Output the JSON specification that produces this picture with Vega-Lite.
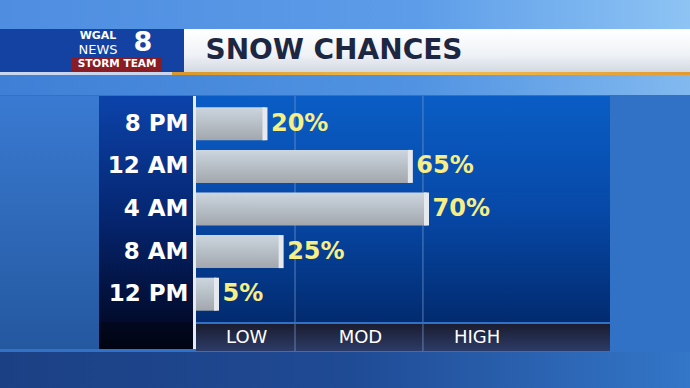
{
  "$schema": "https://vega.github.io/schema/vega-lite/v6.json",
  "background": "#3272c6",
  "padding": 0,
  "spacing": 0,
  "config": {"view": {"stroke": null}, "font": "DejaVu Sans"},
  "datasets": {
    "chances": [
      {"time": "8 PM", "chance": 0.20},
      {"time": "12 AM", "chance": 0.65},
      {"time": "4 AM", "chance": 0.70},
      {"time": "8 AM", "chance": 0.25},
      {"time": "12 PM", "chance": 0.05}
    ],
    "levels": [{"boundary": 0.293}, {"boundary": 0.689}]
  },
  "vconcat": [
    {"width": 690, "height": 29, "data": {"values": []}, "mark": "rect",
     "view": {"fill": {"gradient": "linear", "x1": 0, "y1": 0, "x2": 1, "y2": 0, "stops": [{"offset": 0, "color": "#4e8de0"}, {"offset": 0.6, "color": "#5c9ce8"}, {"offset": 1, "color": "#8ec4f4"}]}}},
    {"hconcat": [
      {"width": 72, "height": 43, "data": {"values": []}, "mark": "rect", "view": {"fill": "#1342a2"}},
      {"vconcat": [
        {"hconcat": [
          {"vconcat": [
            {"width": 52, "height": 13, "data": {"values": [{}]},
             "mark": {"type": "text", "fontWeight": "bold", "fontSize": 11, "color": "#ffffff", "clip": true},
             "encoding": {"text": {"value": "WGAL"}}, "view": {"fill": "#1342a2"}},
            {"width": 52, "height": 15, "data": {"values": [{}]},
             "mark": {"type": "text", "fontSize": 13, "color": "#ffffff", "clip": true},
             "encoding": {"text": {"value": "NEWS"}}, "view": {"fill": "#1342a2"}}
          ], "spacing": 0},
          {"width": 38, "height": 28, "data": {"values": [{}]},
           "mark": {"type": "text", "fontWeight": "bold", "fontSize": 27, "color": "#ffffff", "clip": true},
           "encoding": {"text": {"value": "8"}}, "view": {"fill": "#1342a2"}}
        ], "spacing": 0},
        {"width": 90, "height": 14, "data": {"values": [{}]},
         "mark": {"type": "text", "fontWeight": "bold", "fontSize": 10.5, "color": "#ffffff", "clip": true},
         "encoding": {"text": {"value": "STORM TEAM"}}, "view": {"fill": "#8a1c24"}},
        {"width": 90, "height": 1, "data": {"values": []}, "mark": "rect", "view": {"fill": "#1342a2"}}
      ], "spacing": 0},
      {"width": 22, "height": 43, "data": {"values": []}, "mark": "rect", "view": {"fill": "#1342a2"}},
      {"width": 300, "height": 43, "data": {"values": [{}]},
       "mark": {"type": "text", "fontWeight": "bold", "fontSize": 28, "color": "#1d2742", "clip": true},
       "encoding": {"text": {"value": "SNOW CHANCES"}},
       "view": {"fill": {"gradient": "linear", "x1": 0, "y1": 0, "x2": 0, "y2": 1, "stops": [{"offset": 0, "color": "#ffffff"}, {"offset": 0.6, "color": "#eff2f6"}, {"offset": 1, "color": "#d3d9e2"}]}}},
      {"width": 206, "height": 43, "data": {"values": []}, "mark": "rect",
       "view": {"fill": {"gradient": "linear", "x1": 0, "y1": 0, "x2": 0, "y2": 1, "stops": [{"offset": 0, "color": "#ffffff"}, {"offset": 0.6, "color": "#eff2f6"}, {"offset": 1, "color": "#d3d9e2"}]}}}
    ], "spacing": 0},
    {"hconcat": [
      {"width": 172, "height": 3, "data": {"values": []}, "mark": "rect", "view": {"fill": "#c9d7ee"}},
      {"width": 518, "height": 3, "data": {"values": []}, "mark": "rect",
       "view": {"fill": {"gradient": "linear", "x1": 0, "y1": 0, "x2": 1, "y2": 0, "stops": [{"offset": 0, "color": "#d9962a"}, {"offset": 0.5, "color": "#f1bd52"}, {"offset": 1, "color": "#e39a30"}]}}}
    ], "spacing": 0},
    {"width": 690, "height": 20, "data": {"values": []}, "mark": "rect",
     "view": {"fill": {"gradient": "linear", "x1": 0, "y1": 0, "x2": 1, "y2": 0, "stops": [{"offset": 0, "color": "#3f80d6"}, {"offset": 0.6, "color": "#5193e2"}, {"offset": 1, "color": "#82b9ef"}]}}},
    {"hconcat": [
      {"width": 99, "height": 253, "data": {"values": []}, "mark": "rect",
       "view": {"fill": {"gradient": "linear", "x1": 0, "y1": 0, "x2": 0, "y2": 1, "stops": [{"offset": 0, "color": "#3a7ad2"}, {"offset": 1, "color": "#24589f"}]}}},
      {"vconcat": [
        {"width": 94, "height": 226, "data": {"name": "chances"},
         "mark": {"type": "rect", "opacity": 0},
         "encoding": {
           "y": {"field": "time", "type": "nominal", "sort": null,
                 "scale": {"paddingInner": 0.225, "paddingOuter": 0.265, "align": 0.5},
                 "axis": {"orient": "left", "offset": -94, "labelPadding": 5, "ticks": false, "domain": false, "grid": false, "title": null,
                          "labelFont": "DejaVu Sans", "labelFontWeight": "bold", "labelFontSize": 23, "labelColor": "#ffffff",
                          "labelAlign": "right", "labelBaseline": "middle"}}
         },
         "view": {"fill": {"gradient": "linear", "x1": 0, "y1": 0, "x2": 0, "y2": 1, "stops": [{"offset": 0, "color": "#0c43aa"}, {"offset": 0.55, "color": "#05256f"}, {"offset": 1, "color": "#020b2c"}]}}},
        {"width": 94, "height": 27, "data": {"values": []}, "mark": "rect",
         "view": {"fill": {"gradient": "linear", "x1": 0, "y1": 0, "x2": 0, "y2": 1, "stops": [{"offset": 0, "color": "#020820"}, {"offset": 1, "color": "#000412"}]}}}
      ], "spacing": 0},
      {"width": 3, "height": 253, "data": {"values": []}, "mark": "rect", "view": {"fill": "#e6eaf2"}},
      {"vconcat": [
        {"width": 414, "height": 226,
         "view": {"fill": {"gradient": "linear", "x1": 0, "y1": 0, "x2": 0, "y2": 1, "stops": [{"offset": 0, "color": "#0a5dc5"}, {"offset": 0.5, "color": "#0749a8"}, {"offset": 1, "color": "#022b70"}]}},
         "layer": [
           {"data": {"name": "levels"},
            "mark": {"type": "rule", "color": "#7496cc", "strokeWidth": 1, "opacity": 0.75},
            "encoding": {"x": {"field": "boundary", "type": "quantitative", "scale": {"domain": [-0.0135, 1.268], "nice": false, "zero": false}, "axis": null}}},
           {"data": {"name": "chances"},
            "mark": {"type": "bar", "fill": {"gradient": "linear", "x1": 0, "y1": 0, "x2": 0, "y2": 1, "stops": [{"offset": 0, "color": "#ccd6df"}, {"offset": 1, "color": "#a2a7ad"}]}},
            "encoding": {
              "y": {"field": "time", "type": "nominal", "sort": null, "scale": {"paddingInner": 0.225, "paddingOuter": 0.265, "align": 0.5}, "axis": null},
              "x": {"field": "chance", "type": "quantitative", "scale": {"domain": [-0.0135, 1.268], "nice": false, "zero": false}, "axis": null},
              "x2": {"datum": -0.0135}
            }},
           {"data": {"name": "chances"},
            "mark": {"type": "tick", "thickness": 5, "size": 33, "color": "#e6eaee", "opacity": 1},
            "encoding": {
              "y": {"field": "time", "type": "nominal", "sort": null, "scale": {"paddingInner": 0.225, "paddingOuter": 0.265, "align": 0.5}, "axis": null},
              "x": {"field": "chance", "type": "quantitative", "scale": {"domain": [-0.0135, 1.268], "nice": false, "zero": false}, "axis": null}
            }},
           {"data": {"name": "chances"},
            "mark": {"type": "text", "align": "left", "baseline": "middle", "dx": 6, "font": "DejaVu Sans", "fontWeight": "bold", "fontSize": 24, "color": "#f7ee86"},
            "encoding": {
              "y": {"field": "time", "type": "nominal", "sort": null, "scale": {"paddingInner": 0.225, "paddingOuter": 0.265, "align": 0.5}, "axis": null},
              "x": {"field": "chance", "type": "quantitative", "scale": {"domain": [-0.0135, 1.268], "nice": false, "zero": false}, "axis": null},
              "text": {"field": "chance", "type": "quantitative", "format": ".0%"}
            }}
         ]},
        {"width": 414, "height": 27, "data": {"name": "levels"},
         "view": {"fill": {"gradient": "linear", "x1": 0, "y1": 0, "x2": 0, "y2": 1, "stops": [{"offset": 0, "color": "#1a1d30"}, {"offset": 1, "color": "#2d3b68"}]}},
         "mark": {"type": "rule", "color": "#7496cc", "strokeWidth": 1, "opacity": 0.75},
         "encoding": {
           "x": {"field": "boundary", "type": "quantitative",
                 "scale": {"domain": [-0.0135, 1.268], "nice": false, "zero": false},
                 "axis": {"orient": "bottom", "offset": -27, "values": [0.142, 0.494, 0.855],
                          "labelExpr": "datum.value < 0.3 ? 'LOW' : datum.value < 0.69 ? 'MOD' : 'HIGH'",
                          "domain": false, "ticks": false, "tickSize": 0, "grid": false, "title": null,
                          "labelPadding": 13.5, "labelBaseline": "middle", "labelFont": "DejaVu Sans", "labelFontSize": 18,
                          "labelColor": "#ffffff", "labelFlush": false, "labelOverlap": false}}
         }}
      ], "spacing": 0}
    ], "spacing": 0},
    {"width": 690, "height": 40, "data": {"values": []}, "mark": "rect",
     "view": {"fill": {"gradient": "linear", "x1": 0, "y1": 0, "x2": 1, "y2": 0, "stops": [{"offset": 0, "color": "#1c4084"}, {"offset": 0.5, "color": "#1f4a94"}, {"offset": 1, "color": "#3476c8"}]}}}
  ]
}
